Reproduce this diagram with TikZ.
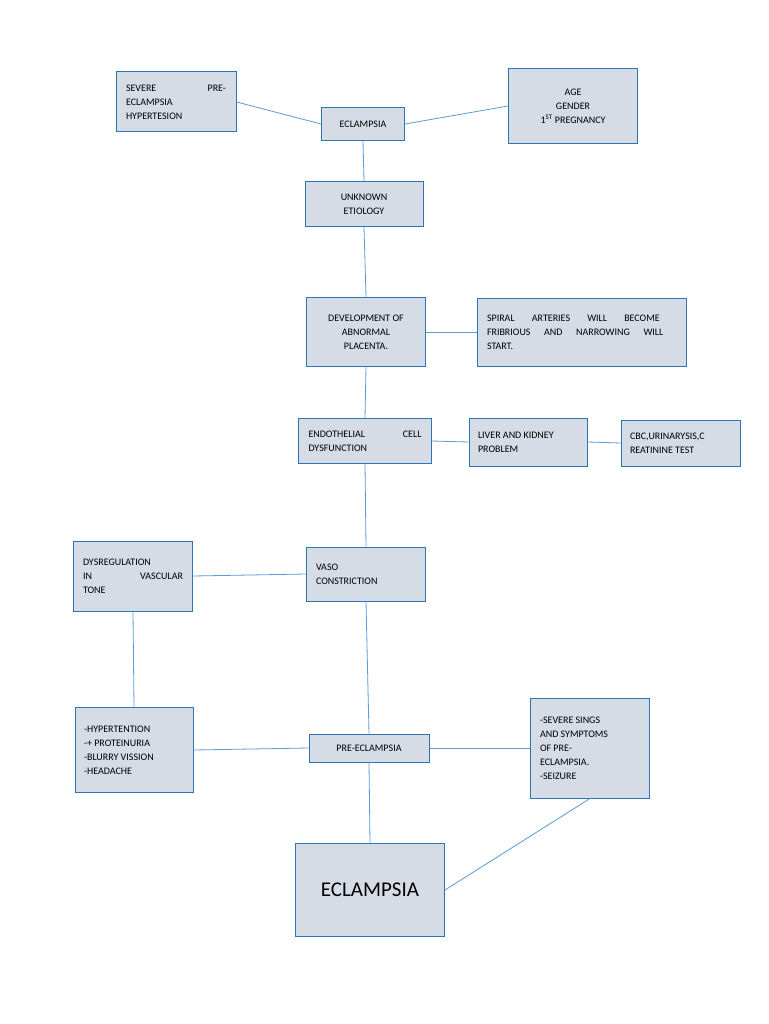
\documentclass[tikz,border=0pt]{standalone}
\usepackage{fontspec}
\setmainfont{Carlito}
\begin{document}
\begin{tikzpicture}[x=1pt,y=-1pt,
  box/.style={draw=boxline,fill=boxfill,line width=1pt,inner sep=0pt,
    font=\fontsize{10}{14}\selectfont},
  link/.style={draw=linkc,line width=0.8pt}]
\definecolor{boxfill}{HTML}{D6DCE5}
\definecolor{boxline}{HTML}{2E75B6}
\definecolor{linkc}{HTML}{5B9BD5}
\useasboundingbox (0,0) rectangle (768,1024);
\fill[white] (0,0) rectangle (768,1024);

\node[box,minimum width=120,minimum height=60] (sev) at (176,102)
  {\parbox{100pt}{\hspace*{0pt}SEVERE\hfill PRE-\\ECLAMPSIA\\HYPERTESION}};
\node[box,minimum width=83,minimum height=33] (ecl) at (363,124) {ECLAMPSIA};
\node[box,minimum width=129,minimum height=75,align=center] (age) at (573,106)
  {AGE\\GENDER\\1\textsuperscript{ST} PREGNANCY};
\node[box,minimum width=118,minimum height=45,align=center] (unk) at (364,204)
  {UNKNOWN\\ETIOLOGY};
\node[box,minimum width=119,minimum height=69,align=center] (dev) at (366,332)
  {DEVELOPMENT OF\\ABNORMAL\\PLACENTA.};
\node[box,minimum width=209,minimum height=68] (spi) at (582,332)
  {\parbox{190pt}{\spaceskip=0pt plus 1fil SPIRAL ARTERIES WILL BECOME\\
  FRIBRIOUS AND NARROWING WILL\\START.}};
\node[box,minimum width=133,minimum height=45] (end) at (365,441)
  {\parbox{113pt}{\hspace*{0pt}ENDOTHELIAL\hfill CELL\\DYSFUNCTION}};
\node[box,minimum width=118,minimum height=48] (liv) at (528,442)
  {\parbox{100pt}{LIVER AND KIDNEY\\PROBLEM}};
\node[box,minimum width=119,minimum height=46] (cbc) at (681,443)
  {\parbox{102pt}{CBC,URINARYSIS,C\\REATININE TEST}};
\node[box,minimum width=119,minimum height=54] (vas) at (366,574)
  {\parbox{100pt}{VASO\\CONSTRICTION}};
\node[box,minimum width=119,minimum height=70] (dys) at (133,576)
  {\parbox{100pt}{DYSREGULATION\\IN\hfill VASCULAR\\TONE}};
\node[box,minimum width=118,minimum height=85] (hyp) at (134,750)
  {\parbox{100pt}{-HYPERTENTION\\-+ PROTEINURIA\\-BLURRY VISSION\\-HEADACHE}};
\node[box,minimum width=120,minimum height=28] (pre) at (369,748) {PRE-ECLAMPSIA};
\node[box,minimum width=119,minimum height=100] (sss) at (590,748)
  {\parbox{100pt}{-SEVERE SINGS\\AND SYMPTOMS\\OF PRE-\\ECLAMPSIA.\\-SEIZURE}};
\node[box,minimum width=149,minimum height=93,font=\fontsize{21}{24}\selectfont]
  (big) at (370,890) {ECLAMPSIA};

\draw[link] (sev.east) -- (ecl.west);
\draw[link] (ecl.east) -- (age.west);
\draw[link] (ecl.south) -- (unk.north);
\draw[link] (unk.south) -- (dev.north);
\draw[link] (dev.east) -- (spi.west);
\draw[link] (dev.south) -- (end.north);
\draw[link] (end.east) -- (liv.west);
\draw[link] (liv.east) -- (cbc.west);
\draw[link] (end.south) -- (vas.north);
\draw[link] (vas.west) -- (dys.east);
\draw[link] (dys.south) -- (hyp.north);
\draw[link] (vas.south) -- (pre.north);
\draw[link] (pre.west) -- (hyp.east);
\draw[link] (pre.east) -- (sss.west);
\draw[link] (pre.south) -- (big.north);
\draw[link] (sss.south) -- (big.east);
\end{tikzpicture}
\end{document}
